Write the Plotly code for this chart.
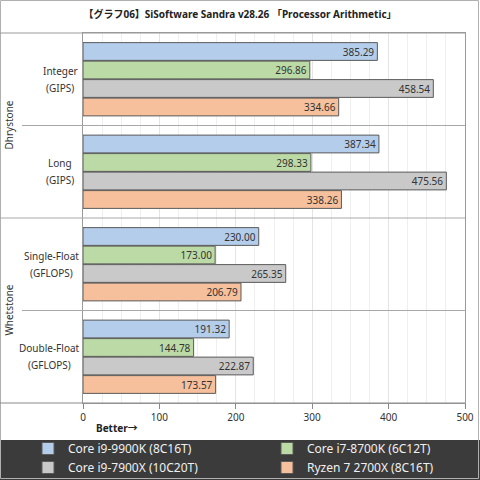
import plotly.graph_objects as go

tests = ["Integer", "Long", "Single-Float", "Double-Float"]
units = ["(GIPS)", "(GIPS)", "(GFLOPS)", "(GFLOPS)"]
groups = ["Dhrystone", "Whetstone"]

cpus = ["Core i9-9900K (8C16T)", "Core i7-8700K (6C12T)",
        "Core i9-7900X (10C20T)", "Ryzen 7 2700X (8C16T)"]
i9_9900k = [385.29, 387.34, 230.00, 191.32]
i7_8700k = [296.86, 298.33, 173.00, 144.78]
i9_7900x = [458.54, 475.56, 265.35, 222.87]
r7_2700x = [334.66, 338.26, 206.79, 173.57]
series = [i9_9900k, i7_8700k, i9_7900x, r7_2700x]
colors = ["#b4cdea", "#bcdaa6", "#c9c9c9", "#f6c09c"]
legend_col = ["legend", "legend2", "legend", "legend2"]  # left / right legend column

FONT = "Noto Sans, Noto Sans CJK JP, sans-serif"

fig = go.Figure()
for name, vals, col, lg in zip(cpus, series, colors, legend_col):
    fig.add_trace(go.Bar(
        x=vals, y=tests, name=name, orientation="h", legend=lg,
        marker=dict(color=col, line=dict(color="#5a5a5a", width=1)),
        texttemplate="%{x:.2f}", textposition="inside", insidetextanchor="end",
        textfont=dict(size=10, color="#333333"), constraintext="none",
    ))

# pixel -> paper helpers (plot area 83..465 x 33..403)
def px(x):
    return (x - 83) / 382

def py(y):
    return (403 - y) / 370

shapes = []
# legend background
shapes.append(dict(type="rect", xref="paper", yref="paper", x0=px(0), x1=px(480),
                   y0=py(440), y1=py(480), fillcolor="#3b3b3b", line=dict(width=0), layer="below"))
# outer border
shapes.append(dict(type="rect", xref="paper", yref="paper", x0=px(0.5), x1=px(478.5),
                   y0=py(0.5), y1=py(478.5), line=dict(color="#b0b0b0", width=1), layer="below"))
# top / bottom lines of table
shapes.append(dict(type="line", xref="paper", yref="paper", x0=px(0), x1=1, y0=1, y1=1,
                   line=dict(color="#9a9a9a", width=1)))
shapes.append(dict(type="line", xref="paper", yref="paper", x0=px(0), x1=1, y0=0, y1=0,
                   line=dict(color="#8a8a8a", width=1)))
# category dividers
for yv, x0 in [(0.5, px(22)), (1.5, px(0)), (2.5, px(22))]:
    shapes.append(dict(type="line", xref="paper", yref="y", x0=x0, x1=1, y0=yv, y1=yv,
                       line=dict(color="#a8a8a8", width=1)))

annotations = []
label_cx = [60, 60, 51, 49]
for t, u, cx in zip(tests, units, label_cx):
    for txt, sh in [(t, 8.5), (u, -8.5)]:
        annotations.append(dict(text=txt, x=px(cx), xref="paper", y=t, yref="y",
                                xanchor="center", yanchor="middle", yshift=sh, showarrow=False,
                                font=dict(size=10, color="#333333", family=FONT)))
for g, yv in zip(groups, [0.5, 2.5]):
    annotations.append(dict(text=g, x=px(8), xref="paper", y=yv, yref="y", textangle=-90,
                            xanchor="center", yanchor="middle", showarrow=False,
                            font=dict(size=10, color="#333333", family=FONT)))
annotations.append(dict(text="<b>Better→</b>", x=px(94), xref="paper", y=py(428), yref="paper",
                        xanchor="left", yanchor="middle", showarrow=False,
                        font=dict(size=10, color="#222222", family=FONT)))

legend_style = dict(orientation="v", xref="container", yref="container",
                    y=1 - 434 / 480, xanchor="left", yanchor="top",
                    bgcolor="rgba(0,0,0,0)", traceorder="normal", tracegroupgap=0,
                    font=dict(size=12, color="#f0f0f0", family=FONT))

fig.update_layout(
    width=480, height=480,
    margin=dict(l=83, r=15, t=33, b=77, autoexpand=False),
    paper_bgcolor="white", plot_bgcolor="white",
    font=dict(family=FONT, size=10, color="#333333"),
    title=dict(text="<b>【グラフ06】SiSoftware Sandra v28.26 「Processor Arithmetic」</b>",
               x=0.5, xanchor="center", y=1 - 14 / 480, yanchor="middle",
               font=dict(size=10, color="#222222")),
    barmode="group", bargap=0.2, bargroupgap=0.04,
    xaxis=dict(range=[0, 500], dtick=100, showgrid=True, gridcolor="#e4e4e4",
               minor=dict(dtick=25, showgrid=True, gridcolor="#efefef"),
               showline=True, linecolor="#9a9a9a", mirror=True,
               ticks="outside", ticklen=5, tickcolor="#888888",
               tickfont=dict(size=10, color="#333333"), zeroline=False),
    yaxis=dict(autorange="reversed", showticklabels=False, showline=True,
               linecolor="#9a9a9a", mirror=True, ticks=""),
    legend=dict(legend_style, x=28 / 480),
    legend2=dict(legend_style, x=267 / 480),
    shapes=shapes, annotations=annotations,
)

fig.write_html("out.html", config={"displayModeBar": False},
               post_script="document.body.style.margin='0';")
